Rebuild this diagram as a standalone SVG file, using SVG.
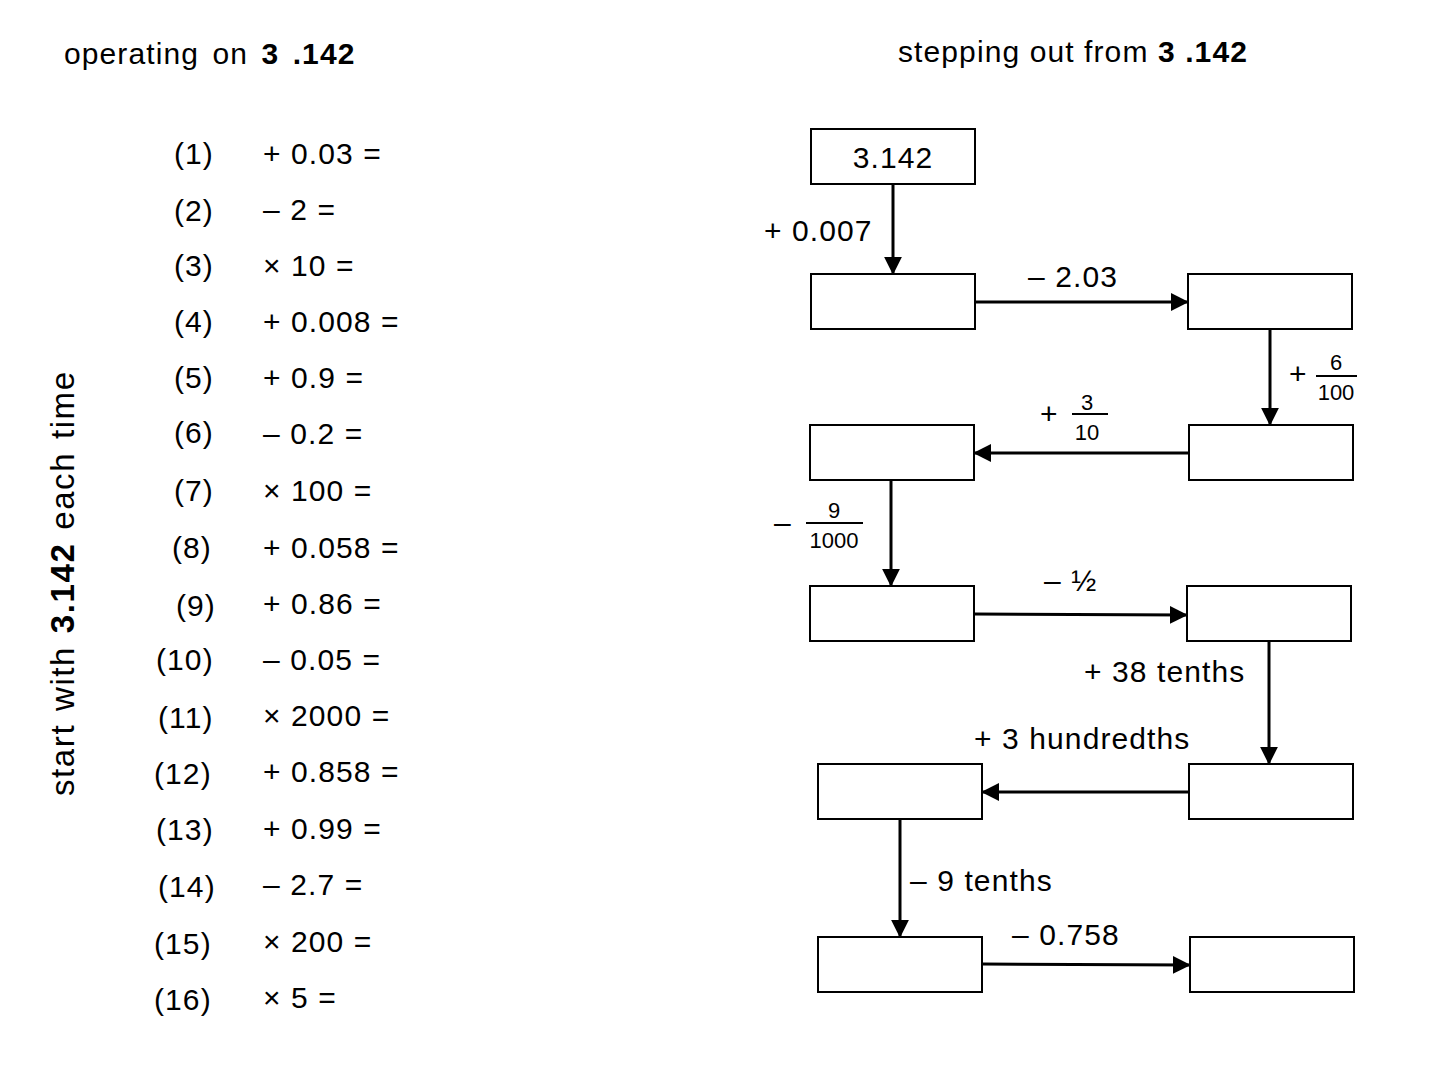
<svg xmlns="http://www.w3.org/2000/svg" width="1454" height="1086" viewBox="0 0 1454 1086">
<style>
text{font-family:"Liberation Sans",Arial,sans-serif;font-size:30px;fill:#000;letter-spacing:1.1px;word-spacing:0px}
.s{font-size:22px;letter-spacing:0}
.r{font-size:33px;letter-spacing:1.6px;word-spacing:2px}
.b{fill:#fff;stroke:#000;stroke-width:2}
.c{stroke:#000;stroke-width:3;fill:none;marker-end:url(#m)}
.f{stroke:#000;stroke-width:2}
</style>
<defs>
<marker id="m" viewBox="0 0 10 10" refX="9" refY="5" markerWidth="18" markerHeight="18" markerUnits="userSpaceOnUse" orient="auto"><path d="M0,0L10,5L0,10z"/></marker></defs>
<rect width="1454" height="1086" fill="#fff"/>
<text x="64" y="64" style="word-spacing:4px">operating on <tspan font-weight="bold">3 .142</tspan></text>
<text x="898" y="62">stepping out from <tspan font-weight="bold">3 .142</tspan></text>
<text class="r" transform="translate(74,796) rotate(-90)">start with <tspan font-weight="bold">3.142</tspan> each time</text>
<g id="list">
<text x="174" y="164">(1)</text><text x="263" y="164">+ 0.03 =</text>
<text x="174" y="221">(2)</text><text x="263" y="220">– 2 =</text>
<text x="174" y="276">(3)</text><text x="263" y="276">× 10 =</text>
<text x="174" y="332">(4)</text><text x="263" y="332">+ 0.008 =</text>
<text x="174" y="388">(5)</text><text x="263" y="388">+ 0.9 =</text>
<text x="174" y="443">(6)</text><text x="263" y="444">– 0.2 =</text>
<text x="174" y="501">(7)</text><text x="263" y="501">× 100 =</text>
<text x="172" y="558">(8)</text><text x="263" y="558">+ 0.058 =</text>
<text x="176" y="616">(9)</text><text x="263" y="614">+ 0.86 =</text>
<text x="156" y="670">(10)</text><text x="263" y="670">– 0.05 =</text>
<text x="158" y="728">(11)</text><text x="263" y="726">× 2000 =</text>
<text x="154" y="784">(12)</text><text x="263" y="782">+ 0.858 =</text>
<text x="156" y="840">(13)</text><text x="263" y="839">+ 0.99 =</text>
<text x="158" y="897">(14)</text><text x="263" y="895">– 2.7 =</text>
<text x="154" y="954">(15)</text><text x="263" y="952">× 200 =</text>
<text x="154" y="1010">(16)</text><text x="263" y="1008">× 5 =</text>
</g>
<g id="n0"><rect class="b" x="811" y="129" width="164" height="55"/><text x="893" y="168" text-anchor="middle">3.142</text></g>
<g id="n1"><rect class="b" x="811" y="274" width="164" height="55"/></g>
<g id="n2"><rect class="b" x="1188" y="274" width="164" height="55"/></g>
<g id="n3"><rect class="b" x="1189" y="425" width="164" height="55"/></g>
<g id="n4"><rect class="b" x="810" y="425" width="164" height="55"/></g>
<g id="n5"><rect class="b" x="810" y="586" width="164" height="55"/></g>
<g id="n6"><rect class="b" x="1187" y="586" width="164" height="55"/></g>
<g id="n7"><rect class="b" x="1189" y="764" width="164" height="55"/></g>
<g id="n8"><rect class="b" x="818" y="764" width="164" height="55"/></g>
<g id="n9"><rect class="b" x="818" y="937" width="164" height="55"/></g>
<g id="n10"><rect class="b" x="1190" y="937" width="164" height="55"/></g>
<g id="connectors">
<path class="c" d="M893,184V273"/>
<path class="c" d="M975,302H1187"/>
<path class="c" d="M1270,329V424"/>
<path class="c" d="M1189,453H975"/>
<path class="c" d="M891,480V585"/>
<path class="c" d="M974,614L1186,615"/>
<path class="c" d="M1269,641V763"/>
<path class="c" d="M1189,792H983"/>
<path class="c" d="M900,819V936"/>
<path class="c" d="M982,964L1189,965"/>
</g>
<g id="labels">
<text x="764" y="241">+ 0.007</text>
<text x="1028" y="287">– 2.03</text>
<text x="1289" y="384">+</text><text class="s" x="1336" y="370" text-anchor="middle">6</text><line class="f" x1="1316" y1="376" x2="1357" y2="376"/><text class="s" x="1336" y="400" text-anchor="middle">100</text>
<text x="1040" y="424">+</text><text class="s" x="1087" y="410" text-anchor="middle">3</text><line class="f" x1="1072" y1="414" x2="1108" y2="414"/><text class="s" x="1087" y="440" text-anchor="middle">10</text>
<text x="774" y="533">–</text><text class="s" x="834" y="518" text-anchor="middle">9</text><line class="f" x1="806" y1="523" x2="863" y2="523"/><text class="s" x="834" y="548" text-anchor="middle">1000</text>
<text x="1044" y="591">– ½</text>
<text x="1084" y="682">+ 38 tenths</text>
<text x="974" y="749">+ 3 hundredths</text>
<text x="910" y="891">– 9 tenths</text>
<text x="1012" y="945">– 0.758</text>
</g>
</svg>
